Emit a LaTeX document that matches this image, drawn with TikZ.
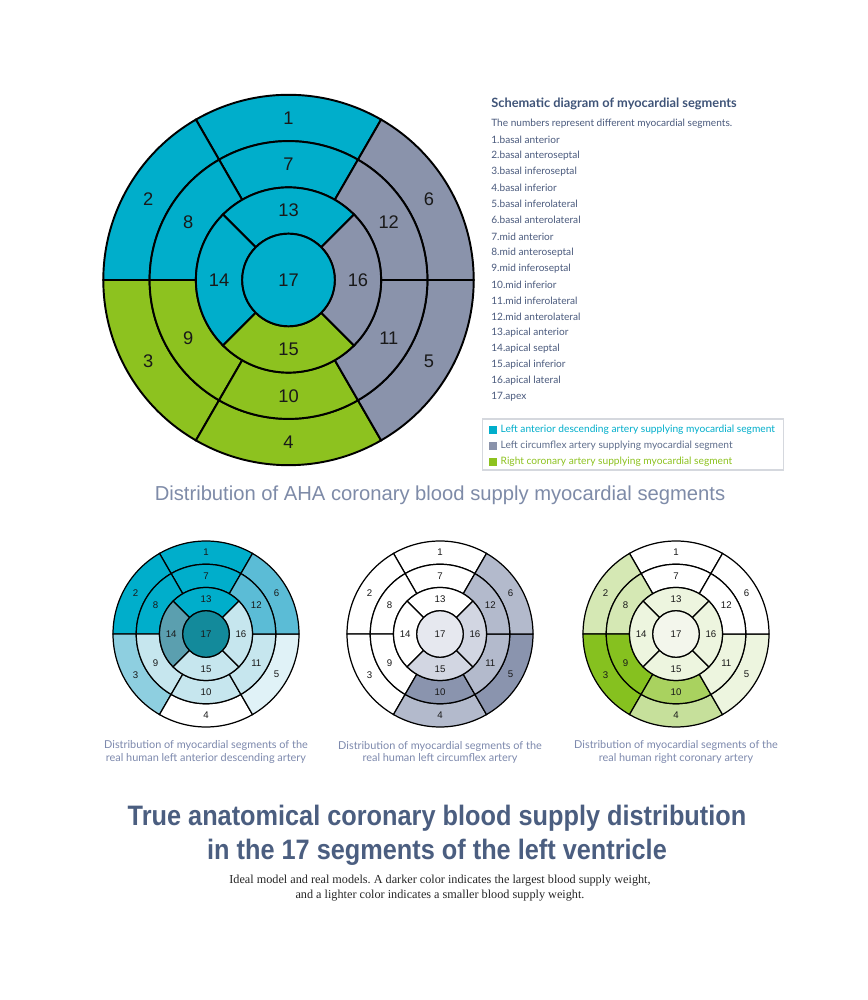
\documentclass[tikz,border=0pt]{standalone}
\usepackage{xcolor}
\usepackage{fontspec}
\setmainfont{Liberation Sans}
\newfontfamily\listfont{Lato}
\newfontfamily\titlefont{Liberation Sans}[FakeStretch=0.9]
\newfontfamily\notefont{Liberation Serif}
\usepackage{tikz}
\usetikzlibrary{positioning}
\frenchspacing

% artery colours
\definecolor{ladc}{HTML}{00AECB}
\definecolor{lcxc}{HTML}{8A93AB}
\definecolor{rcac}{HTML}{8DC21F}
% real model shades
\definecolor{ladA}{HTML}{00AECB}
\definecolor{ladB}{HTML}{5BBCD6}
\definecolor{ladC}{HTML}{8ECFE0}
\definecolor{ladD}{HTML}{5B9FAF}
\definecolor{ladE}{HTML}{138A9B}
\definecolor{ladF}{HTML}{C6E6EE}
\definecolor{ladG}{HTML}{E0F2F7}
\definecolor{lcxA}{HTML}{8A94AE}
\definecolor{lcxB}{HTML}{B3BACC}
\definecolor{lcxC}{HTML}{D2D6E2}
\definecolor{lcxD}{HTML}{E6E8EF}
\definecolor{rcaA}{HTML}{86C11F}
\definecolor{rcaB}{HTML}{A9D25F}
\definecolor{rcaC}{HTML}{D5E8B4}
\definecolor{rcaD}{HTML}{C6E09B}
\definecolor{rcaE}{HTML}{EDF5DF}
\definecolor{rcaF}{HTML}{F3F6EC}
% text colours
\definecolor{headblue}{HTML}{3F5478}
\definecolor{listblue}{HTML}{4A5A7D}
\definecolor{capblue}{HTML}{7D89AD}
\definecolor{ahablue}{HTML}{7E8BA8}
\definecolor{titleblue}{HTML}{4B5E80}
\definecolor{lcxtext}{HTML}{5F6E8C}
\definecolor{legline}{HTML}{D5D8DE}

\tikzset{
  bigline/.style={draw=black, line width=1.1pt},
  smallline/.style={draw=black, line width=0.7pt},
  bignum/.style={font=\fontsize{10.4}{12}\selectfont, text=black!90, inner sep=0pt},
  smallnum/.style={font=\fontsize{5.5}{6}\selectfont, text=black!90, inner sep=0pt},
  listtext/.style={anchor=west, inner sep=0pt, text=listblue, font=\listfont\fontsize{5.75}{7}\selectfont},
  legtext/.style={anchor=west, inner sep=0pt, font=\listfont\fontsize{5.8}{7}\selectfont},
  caption/.style={align=center, text=capblue, font=\listfont\fontsize{6.2}{6.9}\selectfont}
}

% #1 name, #2 centre, #3 ring width, #4 line style, #5 number style, #6 colours of segments 1..17
\newcommand{\bullseye}[6]{%
  \begin{scope}[shift={#2}, scale=#3]
    \foreach \c [count=\n] in {#6} {%
      \ifnum\n<7
        \pgfmathsetmacro\a{60*\n}
        \draw[#4, fill=\c] (\a:3) arc[start angle=\a, delta angle=60, radius=3]
          -- ({\a+60}:4) arc[start angle=\a+60, delta angle=-60, radius=4] -- cycle;
        \node (#1-\n) [#5] at ({\a+30}:3.5) {\n};
      \else\ifnum\n<13
        \pgfmathsetmacro\a{60*(\n-6)}
        \draw[#4, fill=\c] (\a:2) arc[start angle=\a, delta angle=60, radius=2]
          -- ({\a+60}:3) arc[start angle=\a+60, delta angle=-60, radius=3] -- cycle;
        \node (#1-\n) [#5] at ({\a+30}:2.5) {\n};
      \else\ifnum\n<17
        \pgfmathsetmacro\a{90*(\n-13)+45}
        \draw[#4, fill=\c] (\a:1) arc[start angle=\a, delta angle=90, radius=1]
          -- ({\a+90}:2) arc[start angle=\a+90, delta angle=-90, radius=2] -- cycle;
        \node (#1-\n) [#5] at ({\a+45}:1.5) {\n};
      \else
        \draw[#4, fill=\c] (0,0) circle[radius=1];
        \node (#1-\n) [#5] at (0,0) {\n};
      \fi\fi\fi
    }
  \end{scope}}

\begin{document}
\begin{tikzpicture}[x=0.02cm, y=0.02cm]
  \fill[white] (0,0) rectangle (868,1000);
  \useasboundingbox (0,0) rectangle (868,1000);

  % ideal model
  \bullseye{aha}{(288.5,720)}{46.3}{bigline}{bignum}
    {ladc,ladc,rcac,rcac,lcxc,lcxc,ladc,ladc,rcac,rcac,lcxc,lcxc,ladc,ladc,rcac,lcxc,ladc}

  % segment list
  \node (head) [anchor=west, inner sep=0pt, text=headblue, font=\listfont\bfseries\fontsize{7.3}{8}\selectfont] at (491,896) {Schematic diagram of myocardial segments};
  \node (intro) [listtext] at (491,876) {The numbers represent different myocardial segments.};
  \foreach \t [count=\i] in {basal anterior, basal anteroseptal, basal inferoseptal, basal inferior,
      basal inferolateral, basal anterolateral, mid anterior, mid anteroseptal, mid inferoseptal,
      mid inferior, mid inferolateral, mid anterolateral, apical anterior, apical septal,
      apical inferior, apical lateral, apex}
    \node (seg\i) [listtext] at (491,{860-16.06*(\i-1)}) {\i.\t};

  % legend
  \node (legbox) [draw=legline, line width=0.6pt, minimum width=6.02cm, minimum height=1.02cm] at (633,555.5) {};
  \node (ladkey) [fill=ladc, inner sep=0pt, minimum size=0.16cm] at (493,570) {};
  \node (ladtext) [legtext, text=ladc, right=0.06cm of ladkey] {Left anterior descending artery supplying myocardial segment};
  \node (lcxkey) [fill=lcxc, inner sep=0pt, minimum size=0.16cm] at (493,554) {};
  \node (lcxtext) [legtext, text=lcxtext, right=0.06cm of lcxkey] {Left circumflex artery supplying myocardial segment};
  \node (rcakey) [fill=rcac, inner sep=0pt, minimum size=0.16cm] at (493,538) {};
  \node (rcatext) [legtext, text=rcac, right=0.06cm of rcakey] {Right coronary artery supplying myocardial segment};

  \node (ahatitle) [text=ahablue, font=\fontsize{11.5}{13}\selectfont] at (440,505) {Distribution of AHA coronary blood supply myocardial segments};

  % real models
  \bullseye{lad}{(206,366)}{23.25}{smallline}{smallnum}
    {ladA,ladA,ladC,white,ladG,ladB,ladA,ladA,ladF,ladF,ladF,ladB,ladA,ladD,ladF,ladF,ladE}
  \bullseye{lcx}{(440,366)}{23.25}{smallline}{smallnum}
    {white,white,white,lcxB,lcxA,lcxB,white,white,white,lcxA,lcxB,lcxB,white,white,lcxC,lcxC,lcxD}
  \bullseye{rca}{(676,366)}{23.25}{smallline}{smallnum}
    {white,rcaC,rcaA,rcaD,rcaE,white,white,rcaC,rcaA,rcaB,rcaE,white,rcaE,rcaE,rcaE,rcaE,rcaF}

  \node (ladcap) [caption] at (206,248) {Distribution of myocardial segments of the\\real human left anterior descending artery};
  \node (lcxcap) [caption] at (440,248) {Distribution of myocardial segments of the\\real human left circumflex artery};
  \node (rcacap) [caption] at (676,248) {Distribution of myocardial segments of the\\real human right coronary artery};

  % title and note
  \node (title) [align=center, text=titleblue, font=\titlefont\bfseries\fontsize{16}{19.4}\selectfont] at (437,165)
    {True anatomical coronary blood supply distribution\\in the 17 segments of the left ventricle};
  \node (note) [align=center, text=black!85, font=\notefont\fontsize{6.95}{8.6}\selectfont] at (440,112)
    {Ideal model and real models. A darker color indicates the largest blood supply weight,\\and a lighter color indicates a smaller blood supply weight.};
\end{tikzpicture}
\end{document}
